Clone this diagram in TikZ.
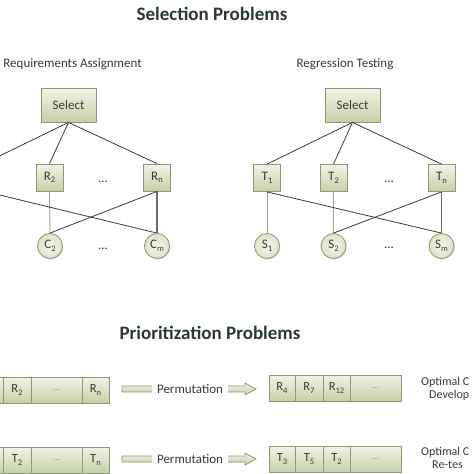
\documentclass[tikz,border=0pt]{standalone}
\usepackage{fontspec}
\setmainfont{Carlito}
\usetikzlibrary{shadows}
\definecolor{boxtop}{HTML}{F2F3E6}
\definecolor{boxbot}{HTML}{C7CFA8}
\definecolor{circin}{HTML}{F6F7EE}
\definecolor{circout}{HTML}{DCE2C6}
\definecolor{boxline}{HTML}{8A9977}
\definecolor{titlecol}{HTML}{2B3A2F}
\definecolor{txt}{HTML}{3A3A3A}
\definecolor{linkdark}{HTML}{3C3C3C}
\definecolor{linklight}{HTML}{A0A0A0}
\definecolor{linkmid}{HTML}{6A6A6A}
\definecolor{dotgray}{HTML}{8A8A8A}
\newcommand{\lowsub}[1]{\raisebox{-0.4ex}{\fontsize{8.5}{9}\selectfont #1}}
\begin{document}
\begin{tikzpicture}[x=1pt,y=-1pt,
  title/.style={font=\fontsize{19}{22}\selectfont\bfseries, text=titlecol, inner sep=0},
  subtitle/.style={font=\fontsize{13}{15}\selectfont, text=txt, inner sep=0},
  shade box/.style={top color=boxtop, bottom color=boxbot, draw=boxline, line width=0.8pt,
    drop shadow={shadow xshift=0.8pt, shadow yshift=-0.9pt, opacity=0.3}},
  selbox/.style={shade box, minimum width=55pt, minimum height=34pt, inner sep=0,
    font=\fontsize{13}{15}\selectfont, text=txt},
  itembox/.style={shade box, minimum width=27pt, minimum height=27pt, inner sep=0,
    font=\fontsize{13}{15}\selectfont, text=txt},
  itemcirc/.style={circle, inner color=circin, outer color=circout, draw=boxline, line width=0.8pt,
    minimum size=25pt, inner sep=0, font=\fontsize{13}{15}\selectfont, text=txt,
    drop shadow={shadow xshift=0.8pt, shadow yshift=-0.9pt, opacity=0.3}},
  gapdots/.style={font=\fontsize{13}{15}\selectfont, text=txt, inner sep=0},
  cell/.style={top color=boxtop, bottom color=boxbot, draw=boxline, line width=0.8pt,
    minimum height=26pt, minimum width=#1, inner sep=0, font=\fontsize{12.5}{14}\selectfont, text=txt,
    drop shadow={shadow xshift=0.8pt, shadow yshift=-0.9pt, opacity=0.3}},
  celldots/.style={cell=#1, font=\fontsize{9}{10}\selectfont, text=dotgray},
  arrowshape/.style={top color=boxtop, bottom color=boxbot, draw=boxline, line width=0.8pt, line join=miter},
  permtext/.style={fill=white, inner xsep=5pt, inner ysep=1pt, font=\fontsize{13}{15}\selectfont, text=txt},
  result/.style={anchor=base west, inner sep=0, font=\fontsize{12}{14}\selectfont, text=txt},
  link/.style={draw=linkdark, line width=0.8pt},
  linkl/.style={draw=linklight, line width=0.9pt},
  linkm/.style={draw=linkmid, line width=1.1pt}]
\useasboundingbox (0,0) rectangle (474,474);
\clip (0,0) rectangle (474,474);
\fill[white] (0,0) rectangle (474,474);

% titles
\node[title] (t1) at (212,14) {Selection Problems};
\node[subtitle] (s1) at (72.5,64) {Requirements Assignment};
\node[subtitle] (s2) at (345,64) {Regression Testing};

% left selection tree
\node[selbox] (selL) at (68.5,105) {Select};
\coordinate (r1top) at (-17,164);
\coordinate (r1bot) at (-17,191);
\node[itembox] (R2) at (49.5,177.5) {R\lowsub{2}};
\node[itembox] (Rn) at (157,177.5) {R\lowsub{n}};
\node[gapdots] (dl1) at (103,182) {...};
\node[itemcirc] (C2) at (50,246) {C\lowsub{2}};
\node[itemcirc] (Cm) at (157,246) {C\lowsub{m}};
\node[gapdots] (dl2) at (103,249) {...};
\draw[link] (selL.south) -- (r1top);
\draw[link] (selL.south) -- (R2.north);
\draw[link] (selL.south) -- (Rn.north);
\draw[linkl] (R2.south) -- (C2.north);
\draw[linkm] (Rn.south) -- (Cm.north);
\draw[link] (Rn.south) -- (C2.north);
\draw[link] (r1bot) -- (Cm.north);

% right selection tree
\node[selbox] (selR) at (352.5,105) {Select};
\node[itembox] (T1) at (267,178) {T\lowsub{1}};
\node[itembox] (T2) at (333.5,178) {T\lowsub{2}};
\node[itembox] (Tn) at (441.5,178) {T\lowsub{n}};
\node[gapdots] (dr1) at (389,182) {...};
\node[itemcirc] (S1) at (267,246) {S\lowsub{1}};
\node[itemcirc] (S2) at (333.5,246) {S\lowsub{2}};
\node[itemcirc] (Sm) at (441.5,246) {S\lowsub{m}};
\node[gapdots] (dr2) at (389,248) {...};
\draw[link] (selR.south) -- (T1.north);
\draw[link] (selR.south) -- (T2.north);
\draw[link] (selR.south) -- (Tn.north);
\draw[linkl] (T1.south) -- (S1.north);
\draw[linkl] (T2.south) -- (S2.north);
\draw[linkm] (Tn.south) -- (Sm.north);
\draw[link] (T1.south) -- (Sm.north);
\draw[link] (Tn.south) -- (S2.north);

% prioritization
\node[title] (t2) at (210,333) {Prioritization Problems};

% row 1
\node[cell=28pt] (a1) at (-11,390) {};
\node[cell=28pt] (a2) at (17,390) {R\lowsub{2}};
\node[celldots=51pt] (a3) at (56.5,390) {...};
\node[cell=27pt] (a4) at (95.5,390) {R\lowsub{n}};
\node[cell=26pt] (b1) at (282,388) {R\lowsub{4}};
\node[cell=28pt] (b2) at (309,388) {R\lowsub{7}};
\node[cell=27pt] (b3) at (336.5,388) {R\lowsub{12}};
\node[celldots=51pt] (b4) at (375.5,388) {...};
\coordinate (p1s) at (122,389);
\coordinate (p1e) at (256,389);
\draw[arrowshape] ([yshift=3pt]p1s) -- ([xshift=-11pt,yshift=3pt]p1e) -- ([xshift=-11pt,yshift=6pt]p1e)
  -- (p1e) -- ([xshift=-11pt,yshift=-6pt]p1e) -- ([xshift=-11pt,yshift=-3pt]p1e) -- ([yshift=-3pt]p1s) -- cycle;
\node[permtext] (pt1) at (190,389) {Permutation};
\node[result] (o1) at (421,385) {Optimal C};
\node[result] (o2) at (429,398) {Develop};

% row 2
\node[cell=28pt] (c1) at (-11,460) {};
\node[cell=28pt] (c2) at (17,460) {T\lowsub{2}};
\node[celldots=51pt] (c3) at (56.5,460) {...};
\node[cell=27pt] (c4) at (95.5,460) {T\lowsub{n}};
\node[cell=26pt] (d1) at (282,459) {T\lowsub{3}};
\node[cell=28pt] (d2) at (309,459) {T\lowsub{5}};
\node[cell=27pt] (d3) at (336.5,459) {T\lowsub{2}};
\node[celldots=51pt] (d4) at (375.5,459) {...};
\coordinate (p2s) at (122,459);
\coordinate (p2e) at (256,459);
\draw[arrowshape] ([yshift=3pt]p2s) -- ([xshift=-11pt,yshift=3pt]p2e) -- ([xshift=-11pt,yshift=6pt]p2e)
  -- (p2e) -- ([xshift=-11pt,yshift=-6pt]p2e) -- ([xshift=-11pt,yshift=-3pt]p2e) -- ([yshift=-3pt]p2s) -- cycle;
\node[permtext] (pt2) at (190,459) {Permutation};
\node[result] (o3) at (421,455) {Optimal C};
\node[result] (o4) at (432,468) {Re-tes};
\end{tikzpicture}
\end{document}
